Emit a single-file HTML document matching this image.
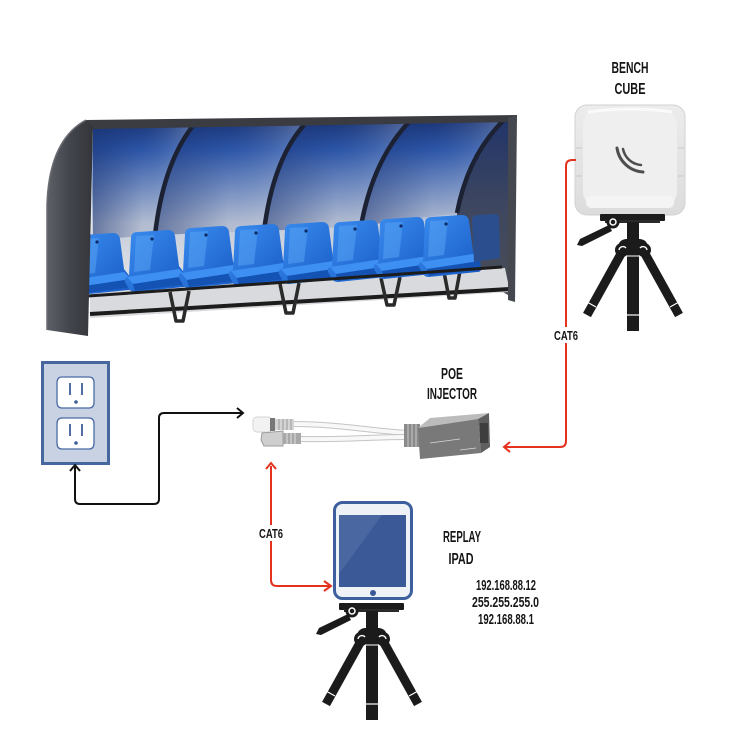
<!DOCTYPE html>
<html><head><meta charset="utf-8"><style>
html,body{margin:0;padding:0;background:#fff;}
svg{display:block;}
.t{font-family:"Liberation Sans",sans-serif;font-weight:bold;fill:#151515;}
</style></head><body>
<svg width="733" height="753" viewBox="0 0 733 753" xmlns="http://www.w3.org/2000/svg">
<defs>
  <linearGradient id="bg" x1="0" y1="0" x2="0" y2="1">
    <stop offset="0" stop-color="#1a3577"/>
    <stop offset="0.15" stop-color="#2f5aae"/>
    <stop offset="0.35" stop-color="#7e98c9"/>
    <stop offset="0.52" stop-color="#c3cbdb"/>
    <stop offset="0.75" stop-color="#dcdde2"/>
    <stop offset="1" stop-color="#d2d3d8"/>
  </linearGradient>
  <linearGradient id="sec" x1="0" y1="0" x2="1" y2="0">
    <stop offset="0" stop-color="#173070" stop-opacity="0.55"/>
    <stop offset="0.5" stop-color="#173070" stop-opacity="0.1"/>
    <stop offset="1" stop-color="#ffffff" stop-opacity="0.25"/>
  </linearGradient>
  <linearGradient id="lp" x1="0" y1="0" x2="1" y2="0">
    <stop offset="0" stop-color="#5e6067"/>
    <stop offset="0.5" stop-color="#43454c"/>
    <stop offset="1" stop-color="#33353b"/>
  </linearGradient>
  <linearGradient id="rp" x1="0" y1="0" x2="0" y2="1">
    <stop offset="0" stop-color="#22356a"/>
    <stop offset="0.5" stop-color="#3e475f"/>
    <stop offset="1" stop-color="#4a4d56"/>
  </linearGradient>
  <linearGradient id="cube" x1="0" y1="0" x2="0" y2="1">
    <stop offset="0" stop-color="#ececec"/>
    <stop offset="1" stop-color="#dcdcdc"/>
  </linearGradient>
  <linearGradient id="sb" x1="0" y1="0" x2="1" y2="1">
    <stop offset="0" stop-color="#3b8df0"/>
    <stop offset="1" stop-color="#1659c4"/>
  </linearGradient>
  <g id="seat">
    <path d="M8,6 Q8,0 15,0 L45,-2 Q51,-2 52,4 L56,34 L63,43 L64,52 Q64,55 60,55 L12,60 Q8,60 6,57 L2,50 Q1,46 4,45 L6,44 Z" fill="url(#sb)"/>
    <path d="M13,4 L31,3 L27,38 L11,40 Z" fill="#5aa5f5" opacity="0.5"/>
    <path d="M4,45 L56,37 L63,44 L10,52 Z" fill="#3d8ff2"/>
    <path d="M10,52 L63,44 L64,52 L12,59 Z" fill="#1452b4"/>
    <circle cx="29" cy="7" r="1.6" fill="#0b2a66"/>
  </g>
  <g id="tripod">
    <path d="M9,11 L-20,25 L-23,31 L-18,32 L12,17 Z" fill="#1b1b1b"/>
    <rect x="0" y="0" width="65" height="7" rx="1" fill="#1b1b1b"/>
    <rect x="5" y="6" width="55" height="3" fill="#2a2a2a"/>
    <rect x="27" y="8" width="12" height="20" fill="#1b1b1b"/>
    <circle cx="13" cy="8" r="6.5" fill="#1b1b1b"/>
    <circle cx="13" cy="8" r="3" fill="#1b1b1b" stroke="#fff" stroke-width="1.5"/>
    <line x1="22" y1="38" x2="-13" y2="101" stroke="#1b1b1b" stroke-width="9"/>
    <line x1="44" y1="38" x2="79" y2="101" stroke="#1b1b1b" stroke-width="9"/>
    <rect x="27" y="36" width="12" height="81" fill="#1b1b1b"/>
    <path d="M18,40 Q16,26 26,25 L40,25 Q50,26 48,40 Z" fill="#1b1b1b"/>
    <circle cx="22" cy="36" r="7" fill="#1b1b1b"/>
    <circle cx="44" cy="36" r="7" fill="#1b1b1b"/>
    <path d="M19,36 A4,4 0 0 1 26,34" stroke="#fff" stroke-width="1.4" fill="none"/>
    <path d="M40,34 A4,4 0 0 1 47,36" stroke="#fff" stroke-width="1.4" fill="none"/>
    <line x1="27" y1="42" x2="39" y2="42" stroke="#fff" stroke-width="1"/>
    <line x1="-13" y1="88" x2="-4" y2="93" stroke="#fff" stroke-width="1.2"/>
    <line x1="70" y1="93" x2="79" y2="88" stroke="#fff" stroke-width="1.2"/>
    <line x1="27" y1="101" x2="39" y2="101" stroke="#fff" stroke-width="1.2"/>
  </g>
</defs>

<!-- ===== BENCH ===== -->
<path d="M93,126 L510,120 L510,292 L90,318 Z" fill="url(#bg)"/>
<!-- section shading -->
<path d="M93,127 L192,127 Q163,165 155,235 L93,240 Z" fill="url(#sec)"/>
<path d="M192,127 L304,125 Q273,160 264,231 L155,235 Q163,165 192,127 Z" fill="url(#sec)"/>
<path d="M304,125 L409,122 Q373,160 361,226 L264,231 Q273,160 304,125 Z" fill="url(#sec)"/>
<path d="M409,122 L504,120 Q468,155 457,213 L361,226 Q373,160 409,122 Z" fill="url(#sec)"/>
<!-- right inner panel -->
<path d="M503,121 Q468,155 457,212 L458,268 L510,296 L510,121 Z" fill="url(#rp)"/>
<!-- ribs -->
<g stroke="#1c2233" stroke-width="4.5" fill="none">
  <path d="M192,127 Q163,165 155,235"/>
  <path d="M304,125 Q273,160 264,231"/>
  <path d="M409,122 Q373,160 361,226"/>
  <path d="M504,120 Q468,155 457,213"/>
</g>
<!-- floor -->
<path d="M90,296 L505,268 L510,292 L90,318 Z" fill="#d9dadd"/>
<line x1="90" y1="314" x2="510" y2="289" stroke="#1c1c1c" stroke-width="4"/>
<!-- legs -->
<g stroke="#2a2a2a" stroke-width="3.5" fill="none" stroke-linejoin="round">
  <path d="M170,292 L176,321 L183,321 L189,291"/>
  <path d="M280,284 L286,313 L293,313 L299,283"/>
  <path d="M381,278 L387,305 L394,305 L400,277"/>
  <path d="M444,272 L449,298 L455,298 L460,271"/>
</g>
<!-- seats -->
<use href="#seat" x="68" y="235"/>
<use href="#seat" x="123" y="232"/>
<use href="#seat" x="177" y="228"/>
<use href="#seat" x="227" y="226"/>
<use href="#seat" x="277" y="224"/>
<use href="#seat" x="326" y="222"/>
<use href="#seat" x="372" y="219"/>
<use href="#seat" x="417" y="217"/>
<path d="M472,220 Q472,215 477,215 L495,214 Q499,214 499,219 L500,258 L474,262 Z" fill="#2b4f8e"/>
<!-- seat rail -->
<line x1="88" y1="296" x2="502" y2="267" stroke="#1c1c1c" stroke-width="3"/>
<!-- top bar -->
<path d="M86,120 L517,115 L517,122 L93,129 Z" fill="#3a3c42"/>
<!-- left end panel -->
<path d="M86,120 L93,127 L88,336 L47,330 L47,205 Q49,140 86,120 Z" fill="url(#lp)"/>
<path d="M86,120 Q49,140 47,205 L47,330" stroke="#6a6c72" stroke-width="1.5" fill="none"/>
<!-- right edge -->
<path d="M508,118 L517,115 L515,302 L508,300 Z" fill="#46484f"/>

<!-- ===== BENCH CUBE ===== -->
<text class="t" x="630" y="73" font-size="15.5" text-anchor="middle" textLength="37" lengthAdjust="spacingAndGlyphs">BENCH</text>
<text class="t" x="630" y="94" font-size="15.5" text-anchor="middle" textLength="31" lengthAdjust="spacingAndGlyphs">CUBE</text>
<rect x="575" y="105" width="110" height="110" rx="12" fill="url(#cube)" stroke="#d2d2d2" stroke-width="1"/>
<rect x="583" y="110" width="94" height="96" rx="14" fill="#efefef"/>
<path d="M588,112 Q630,106 672,112" stroke="#fafafa" stroke-width="3" fill="none"/>
<rect x="586" y="196" width="88" height="12" rx="5" fill="#f4f4f4"/>
<g stroke="#c8c8c8" stroke-width="1">
  <line x1="576" y1="148" x2="582" y2="148"/><line x1="576" y1="176" x2="582" y2="176"/>
  <line x1="678" y1="148" x2="684" y2="148"/><line x1="678" y1="176" x2="684" y2="176"/>
</g>
<path d="M617,148 A28,28 0 0 0 643,172" stroke="#4e4e4e" stroke-width="3" fill="none" stroke-linecap="round"/>
<path d="M623,149 A20,20 0 0 0 641,165" stroke="#4e4e4e" stroke-width="2.5" fill="none" stroke-linecap="round"/>
<use href="#tripod" x="600" y="214"/>

<!-- ===== OUTLET ===== -->
<rect x="42.5" y="362.5" width="66" height="101" fill="#c8d2e2" stroke="#47689f" stroke-width="3"/>
<path d="M62,377 L89,377 Q94,377 94,383 L94,402 Q94,408 89,408 L62,408 Q57,408 57,402 L57,383 Q57,377 62,377 Z" fill="#fff" stroke="#4a6aa6" stroke-width="1.3"/>
<path d="M62,418 L89,418 Q94,418 94,424 L94,443 Q94,449 89,449 L62,449 Q57,449 57,443 L57,424 Q57,418 62,418 Z" fill="#fff" stroke="#4a6aa6" stroke-width="1.3"/>
<g stroke="#3f5f9a" stroke-width="1.8">
  <line x1="70" y1="383" x2="70" y2="395"/><line x1="82" y1="383" x2="82" y2="395"/>
  <line x1="70" y1="424" x2="70" y2="436"/><line x1="82" y1="424" x2="82" y2="436"/>
</g>
<circle cx="76" cy="402" r="1.8" fill="#3f5f9a"/>
<circle cx="76" cy="443" r="1.8" fill="#3f5f9a"/>

<!-- black connector -->
<path d="M75,467 L75,499 Q75,504 80,504 L154,504 Q159,504 159,499 L159,418 Q159,413 164,413 L242,413" stroke="#111" stroke-width="2" fill="none"/>
<path d="M70,471 L75,465 L80,471" stroke="#111" stroke-width="2" fill="none"/>
<path d="M237,408 L243,413 L237,418" stroke="#111" stroke-width="2" fill="none"/>

<!-- ===== POE INJECTOR ===== -->
<text class="t" x="452" y="379" font-size="15.5" text-anchor="middle" textLength="22" lengthAdjust="spacingAndGlyphs">POE</text>
<text class="t" x="452" y="399" font-size="15.5" text-anchor="middle" textLength="50" lengthAdjust="spacingAndGlyphs">INJECTOR</text>
<g fill="none" stroke-linecap="round">
  <path d="M292,424 C340,424 370,431 408,433" stroke="#c4c4c4" stroke-width="6"/>
  <path d="M292,424 C340,424 370,431 408,433" stroke="#f8f8f8" stroke-width="4"/>
  <path d="M300,439 C340,440 370,437 408,437" stroke="#c4c4c4" stroke-width="6"/>
  <path d="M300,439 C340,440 370,437 408,437" stroke="#f8f8f8" stroke-width="4"/>
</g>
<rect x="253" y="417" width="19" height="15" rx="4" fill="#f2f2f2" stroke="#d6d6d6"/>
<rect x="270" y="418" width="5" height="13" fill="#777"/>
<rect x="275" y="419" width="19" height="11" fill="#d4d4d4"/>
<g stroke="#9a9a9a" stroke-width="1"><line x1="279" y1="419" x2="279" y2="430"/><line x1="283" y1="419" x2="283" y2="430"/><line x1="287" y1="419" x2="287" y2="430"/><line x1="291" y1="419" x2="291" y2="430"/></g>
<path d="M262,433 L283,431 L283,446 L264,446 L261,440 Z" fill="#cfcfcf" stroke="#9c9c9c"/>
<rect x="283" y="433" width="18" height="11" fill="#a8a8a8"/>
<g stroke="#e0e0e0" stroke-width="1"><line x1="287" y1="433" x2="287" y2="444"/><line x1="291" y1="433" x2="291" y2="444"/><line x1="295" y1="433" x2="295" y2="444"/></g>
<rect x="404" y="424" width="16" height="23" fill="#8a8a8a"/>
<g stroke="#c8c8c8" stroke-width="1"><line x1="408" y1="424" x2="408" y2="447"/><line x1="412" y1="424" x2="412" y2="447"/><line x1="416" y1="424" x2="416" y2="447"/></g>
<path d="M418,428 L430,418 L489,413 L478,419 Z" fill="#bcbcbc"/>
<path d="M418,428 L478,419 L481,453 L420,459 Z" fill="#797979"/>
<path d="M478,419 L489,413 L490,447 L481,453 Z" fill="#5f5f5f"/>
<rect x="480" y="423" width="8" height="20" fill="#3e3e3e"/>
<g stroke="#d8d8d8" stroke-width="0.8"><line x1="430" y1="443" x2="460" y2="439"/><line x1="460" y1="450" x2="476" y2="448"/></g>

<!-- red connectors -->
<path d="M576,160 L572,160 Q566,160 566,166 L566,441 Q566,447 560,447 L505,447" stroke="#e5321e" stroke-width="2" fill="none"/>
<path d="M510,442 L504,447 L510,452" stroke="#e5321e" stroke-width="2" fill="none"/>
<rect x="552" y="327" width="28" height="16" fill="#fff"/>
<text class="t" x="566" y="340" font-size="13" text-anchor="middle" textLength="24" lengthAdjust="spacingAndGlyphs">CAT6</text>

<path d="M271,466 L271,580 Q271,586 277,586 L330,586" stroke="#e5321e" stroke-width="2" fill="none"/>
<path d="M266,469 L271,463 L276,469" stroke="#e5321e" stroke-width="2" fill="none"/>
<path d="M324,581 L331,586 L324,591" stroke="#e5321e" stroke-width="2" fill="none"/>
<rect x="256" y="525" width="30" height="16" fill="#fff"/>
<text class="t" x="271" y="538" font-size="13" text-anchor="middle" textLength="24" lengthAdjust="spacingAndGlyphs">CAT6</text>

<!-- ===== iPAD ===== -->
<rect x="334.5" y="502.5" width="77" height="96" rx="8" fill="#eef1f6" stroke="#3e5f9e" stroke-width="3"/>
<rect x="339" y="515" width="67" height="72" fill="#3b5996"/>
<path d="M339,515 L382,515 L339,574 Z" fill="#4a67a2"/>
<circle cx="373" cy="593" r="3" fill="#3b5996"/>
<use href="#tripod" x="339" y="603"/>

<text class="t" x="462" y="542" font-size="15.5" text-anchor="middle" textLength="38" lengthAdjust="spacingAndGlyphs">REPLAY</text>
<text class="t" x="461" y="564" font-size="15.5" text-anchor="middle" textLength="25" lengthAdjust="spacingAndGlyphs">IPAD</text>
<text class="t" x="506" y="590" font-size="14.5" text-anchor="middle" textLength="60" lengthAdjust="spacingAndGlyphs">192.168.88.12</text>
<text class="t" x="505.5" y="607" font-size="14.5" text-anchor="middle" textLength="67" lengthAdjust="spacingAndGlyphs">255.255.255.0</text>
<text class="t" x="506" y="624" font-size="14.5" text-anchor="middle" textLength="56" lengthAdjust="spacingAndGlyphs">192.168.88.1</text>
</svg>
</body></html>
